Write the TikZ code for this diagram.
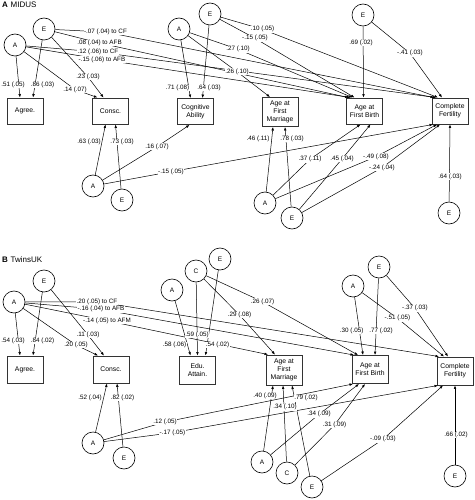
\documentclass[tikz,border=0pt]{standalone}
\usepackage{fontspec}
\setmainfont{Liberation Sans}
\usetikzlibrary{arrows.meta}
\begin{document}
\begin{tikzpicture}[x=1pt,y=-1pt,
  lv/.style={circle,draw,line width=0.6pt,minimum size=22pt,inner sep=0pt,font=\fontsize{6.5}{7}\selectfont},
  obs/.style={rectangle,draw=black!80,line width=0.9pt,minimum width=36pt,minimum height=26pt,inner sep=0pt,align=center,font=\fontsize{6.8}{8}\selectfont},
  lab/.style={fill=white,inner sep=0.5pt,font=\fontsize{6.3}{7}\selectfont},
  ttl/.style={anchor=west,inner sep=0pt,font=\fontsize{8}{9}\selectfont},
  arr/.style={line width=0.5pt,-{Latex[length=3.5pt,width=2.6pt]}}]
\useasboundingbox (0,0) rectangle (474,500);

% ---------------- Panel A ----------------
\node[ttl] (tA) at (2,5) {\textbf{A}\,\,MIDUS};
\node[lv] (Aa) at (15,45) {A};
\node[lv] (Ea) at (44,29) {E};
\node[obs] (agree) at (25,111) {Agree.};
\node[obs] (consc) at (110.5,111) {Consc.};
\node[obs] (cog) at (195.5,111.5) {Cognitive\\Ability};
\node[obs,minimum height=29pt] (afm) at (280,112) {Age at\\First\\Marriage};
\node[obs] (afb) at (364.5,111) {Age at\\First Birth};
\node[obs] (cf) at (450,111) {Complete\\Fertility};
\node[lv] (Ac) at (179,29) {A};
\node[lv] (Ec) at (210,14) {E};
\node[lv] (Eb) at (363,15) {E};
\node[lv] (Al) at (93,186) {A};
\node[lv] (El) at (122,200) {E};
\node[lv] (Am) at (265,203) {A};
\node[lv] (Em) at (292,218) {E};
\node[lv] (Ef) at (449,213) {E};

\draw[arr] (Aa) -- ([xshift=-5pt]agree.north);
\draw[arr] (Ea) -- ([xshift=8pt]agree.north);
\draw[arr] (Aa) -- (75,89.5) -- ([xshift=-13pt]consc.north);
\draw[arr] (Ea) -- (88,77) -- ([xshift=-7pt]consc.north);
\draw[arr] (Ea) -- (105.5,32) -- ([xshift=-16pt]cf.north);
\draw[arr] (Ea) -- (99.5,43) -- ([xshift=-16pt]afb.north);
\draw[arr] (Aa) -- (98,52) -- ([xshift=-14pt]cf.north);
\draw[arr] (Aa) -- (102,59.5) -- ([xshift=-14pt]afb.north);
\draw[arr] (Ac) -- ([xshift=-5pt]cog.north);
\draw[arr] (Ec) -- ([xshift=7pt]cog.north);
\draw[arr] (Ac) -- (238,49.3) -- ([xshift=-12pt]afb.north);
\draw[arr] (Ac) -- (237,71.7) -- ([xshift=-10pt]afm.north);
\draw[arr] (Ec) -- (262.5,29.3) -- ([xshift=-12pt]cf.north);
\draw[arr] (Ec) -- (255,38.3) -- ([xshift=-10pt]afb.north);
\draw[arr] (Eb) -- ([xshift=-1pt]afb.north);
\draw[arr] (Eb) -- (410,53.3) -- ([xshift=-8pt]cf.north);
\draw[arr] (Al) -- ([xshift=-5pt]consc.south);
\draw[arr] (El) -- ([xshift=5pt]consc.south);
\draw[arr] (Al) -- (157,146.7) -- ([xshift=-6pt]cog.south);
\draw[arr] (Al) -- (171,171.7) -- ([xshift=-17pt]cf.south);
\draw[arr] (Am) -- ([xshift=-7pt]afm.south);
\draw[arr] (Em) -- ([xshift=5pt]afm.south);
\draw[arr] (Am) -- (310,159.3) -- ([xshift=-4pt]afb.south);
\draw[arr] (Em) -- (342,159) -- ([xshift=6pt]afb.south);
\draw[arr] (Am) -- (376,156.7) -- ([xshift=-13pt]cf.south);
\draw[arr] (Em) -- (382,167.7) -- ([xshift=-10pt]cf.south);
\draw[arr] (Ef) -- (cf.south);

\node[lab] (la1) at (13,85) {.51 (.05)};
\node[lab] (la2) at (42.5,85) {.86 (.03)};
\node[lab] (la3) at (75,89.5) {.14 (.07)};
\node[lab] (la4) at (88,77) {.23 (.03)};
\node[lab] (la5) at (105.5,32) {-.07 (.04) to CF};
\node[lab] (la6) at (99.5,43) {.08 (.04) to AFB};
\node[lab] (la7) at (98,52) {.12 (.06) to CF};
\node[lab] (la8) at (102,59.5) {-.15 (.06) to AFB};
\node[lab] (la9) at (177.5,88) {.71 (.08)};
\node[lab] (la10) at (209,88) {.64 (.03)};
\node[lab] (la11) at (238,49.3) {.27 (.10)};
\node[lab] (la12) at (237,71.7) {.26 (.10)};
\node[lab] (la13) at (262.5,29.3) {.10 (.05)};
\node[lab] (la14) at (255,38.3) {-.15 (.05)};
\node[lab] (la15) at (361,43) {.69 (.02)};
\node[lab] (la16) at (410,53.3) {-.41 (.03)};
\node[lab] (la17) at (89,141.7) {.63 (.03)};
\node[lab] (la18) at (122,142) {.73 (.03)};
\node[lab] (la19) at (157,146.7) {.16 (.07)};
\node[lab] (la20) at (171,171.7) {-.15 (.05)};
\node[lab] (la21) at (258,139) {.46 (.11)};
\node[lab] (la22) at (292,139) {.78 (.03)};
\node[lab] (la23) at (310,159.3) {.37 (.11)};
\node[lab] (la24) at (342,159) {.45 (.04)};
\node[lab] (la25) at (376,156.7) {-.49 (.08)};
\node[lab] (la26) at (382,167.7) {-.24 (.04)};
\node[lab] (la27) at (450,176.7) {.64 (.03)};

% ---------------- Panel B ----------------
\node[ttl] (tB) at (2,260) {\textbf{B}\,\,TwinsUK};
\node[lv] (Ba) at (14,302) {A};
\node[lv] (Be) at (44,281) {E};
\node[obs,minimum height=27pt] (agreeB) at (25,369.5) {Agree.};
\node[obs,minimum height=27pt] (conscB) at (111,369.5) {Consc.};
\node[obs,minimum height=28pt] (eduB) at (197.5,370) {Edu.\\Attain.};
\node[obs,minimum height=30pt] (afmB) at (284,370) {Age at\\First\\Marriage};
\node[obs,minimum height=28pt] (afbB) at (370,369.5) {Age at\\First Birth};
\node[obs,minimum height=28pt] (cfB) at (455,371) {Complete\\Fertility};
\node[lv] (Bac) at (172,290) {A};
\node[lv] (Bcc) at (196,271) {C};
\node[lv] (Bec) at (220,259) {E};
\node[lv] (Bab) at (353,286) {A};
\node[lv] (Beb) at (379,267) {E};
\node[lv] (Bal) at (93,443) {A};
\node[lv] (Bel) at (124,458) {E};
\node[lv] (Bam) at (262,462) {A};
\node[lv] (Bcm) at (287,473) {C};
\node[lv] (Bem) at (312,487) {E};
\node[lv] (Bef) at (455,476) {E};

\draw[arr] (Ba) -- ([xshift=-5pt]agreeB.north);
\draw[arr] (Be) -- ([xshift=8pt]agreeB.north);
\draw[arr] (Ba) -- (76,345) -- ([xshift=-13pt]conscB.north);
\draw[arr] (Be) -- (88,335) -- ([xshift=-7pt]conscB.north);
\draw[arr] (Ba) -- (97,301.7) -- ([xshift=-16pt]cfB.north);
\draw[arr] (Ba) -- (101,309.3) -- ([xshift=-16pt]afbB.north);
\draw[arr] (Ba) -- (107,320.7) -- ([xshift=-16pt]afmB.north);
\draw[arr] (Bac) -- ([xshift=-7pt]eduB.north);
\draw[arr] (Bcc) -- (eduB.north);
\draw[arr] (Bec) -- ([xshift=8pt]eduB.north);
\draw[arr] (Bcc) -- (239.5,315) -- ([xshift=-9pt]afmB.north);
\draw[arr] (Bcc) -- (262.5,301.7) -- ([xshift=-12pt]afbB.north);
\draw[arr] (Bab) -- ([xshift=-7pt]afbB.north);
\draw[arr] (Beb) -- ([xshift=5pt]afbB.north);
\draw[arr] (Bab) -- (397.5,318.3) -- ([xshift=-11pt]cfB.north);
\draw[arr] (Beb) -- (415,308.3) -- ([xshift=-7pt]cfB.north);
\draw[arr] (Bal) -- ([xshift=-4pt]conscB.south);
\draw[arr] (Bel) -- ([xshift=6pt]conscB.south);
\draw[arr] (Bal) -- (165,422) -- ([xshift=-17pt]afbB.south);
\draw[arr] (Bal) -- (172.5,432.7) -- ([xshift=-17pt]cfB.south);
\draw[arr] (Bam) -- ([xshift=-11pt]afmB.south);
\draw[arr] (Bcm) -- ([xshift=-1pt]afmB.south);
\draw[arr] (Bem) -- ([xshift=8pt]afmB.south);
\draw[arr] (Bam) -- (319,414.3) -- ([xshift=-11pt]afbB.south);
\draw[arr] (Bcm) -- (334.5,425) -- ([xshift=-5pt]afbB.south);
\draw[arr] (Bem) -- (383,439.3) -- ([xshift=-12pt]cfB.south);
\draw[arr] (Bef) -- (cfB.south);

\node[lab] (lb1) at (13,341) {.54 (.03)};
\node[lab] (lb2) at (42.5,341) {.84 (.02)};
\node[lab] (lb3) at (76,345) {.20 (.05)};
\node[lab] (lb4) at (88,335) {.11 (.03)};
\node[lab] (lb5) at (97,301.7) {.20 (.05) to CF};
\node[lab] (lb6) at (101,309.3) {-.16 (.04) to AFB};
\node[lab] (lb7) at (107,320.7) {-.14 (.05) to AFM};
\node[lab] (lb8) at (174.5,345) {.58 (.06)};
\node[lab] (lb9) at (197,335) {.59 (.05)};
\node[lab] (lb10) at (217.5,345) {.54 (.02)};
\node[lab] (lb11) at (239.5,315) {.29 (.08)};
\node[lab] (lb12) at (262.5,301.7) {.26 (.07)};
\node[lab] (lb13) at (351.7,331) {.30 (.05)};
\node[lab] (lb14) at (381,331) {.77 (.02)};
\node[lab] (lb15) at (397.5,318.3) {-.51 (.05)};
\node[lab] (lb16) at (415,308.3) {-.37 (.03)};
\node[lab] (lb17) at (90,398) {.52 (.04)};
\node[lab] (lb18) at (122.5,398) {.82 (.02)};
\node[lab] (lb19) at (165,422) {.12 (.05)};
\node[lab] (lb20) at (172.5,432.7) {-.17 (.05)};
\node[lab] (lb21) at (265,396) {.40 (.09)};
\node[lab] (lb22) at (306,398.3) {.79 (.02)};
\node[lab] (lb23) at (285,407.3) {.34 (.10)};
\node[lab] (lb24) at (319,414.3) {.34 (.09)};
\node[lab] (lb25) at (334.5,425) {.31 (.09)};
\node[lab] (lb26) at (383,439.3) {-.09 (.03)};
\node[lab] (lb27) at (456,435) {.66 (.02)};
\end{tikzpicture}
\end{document}
